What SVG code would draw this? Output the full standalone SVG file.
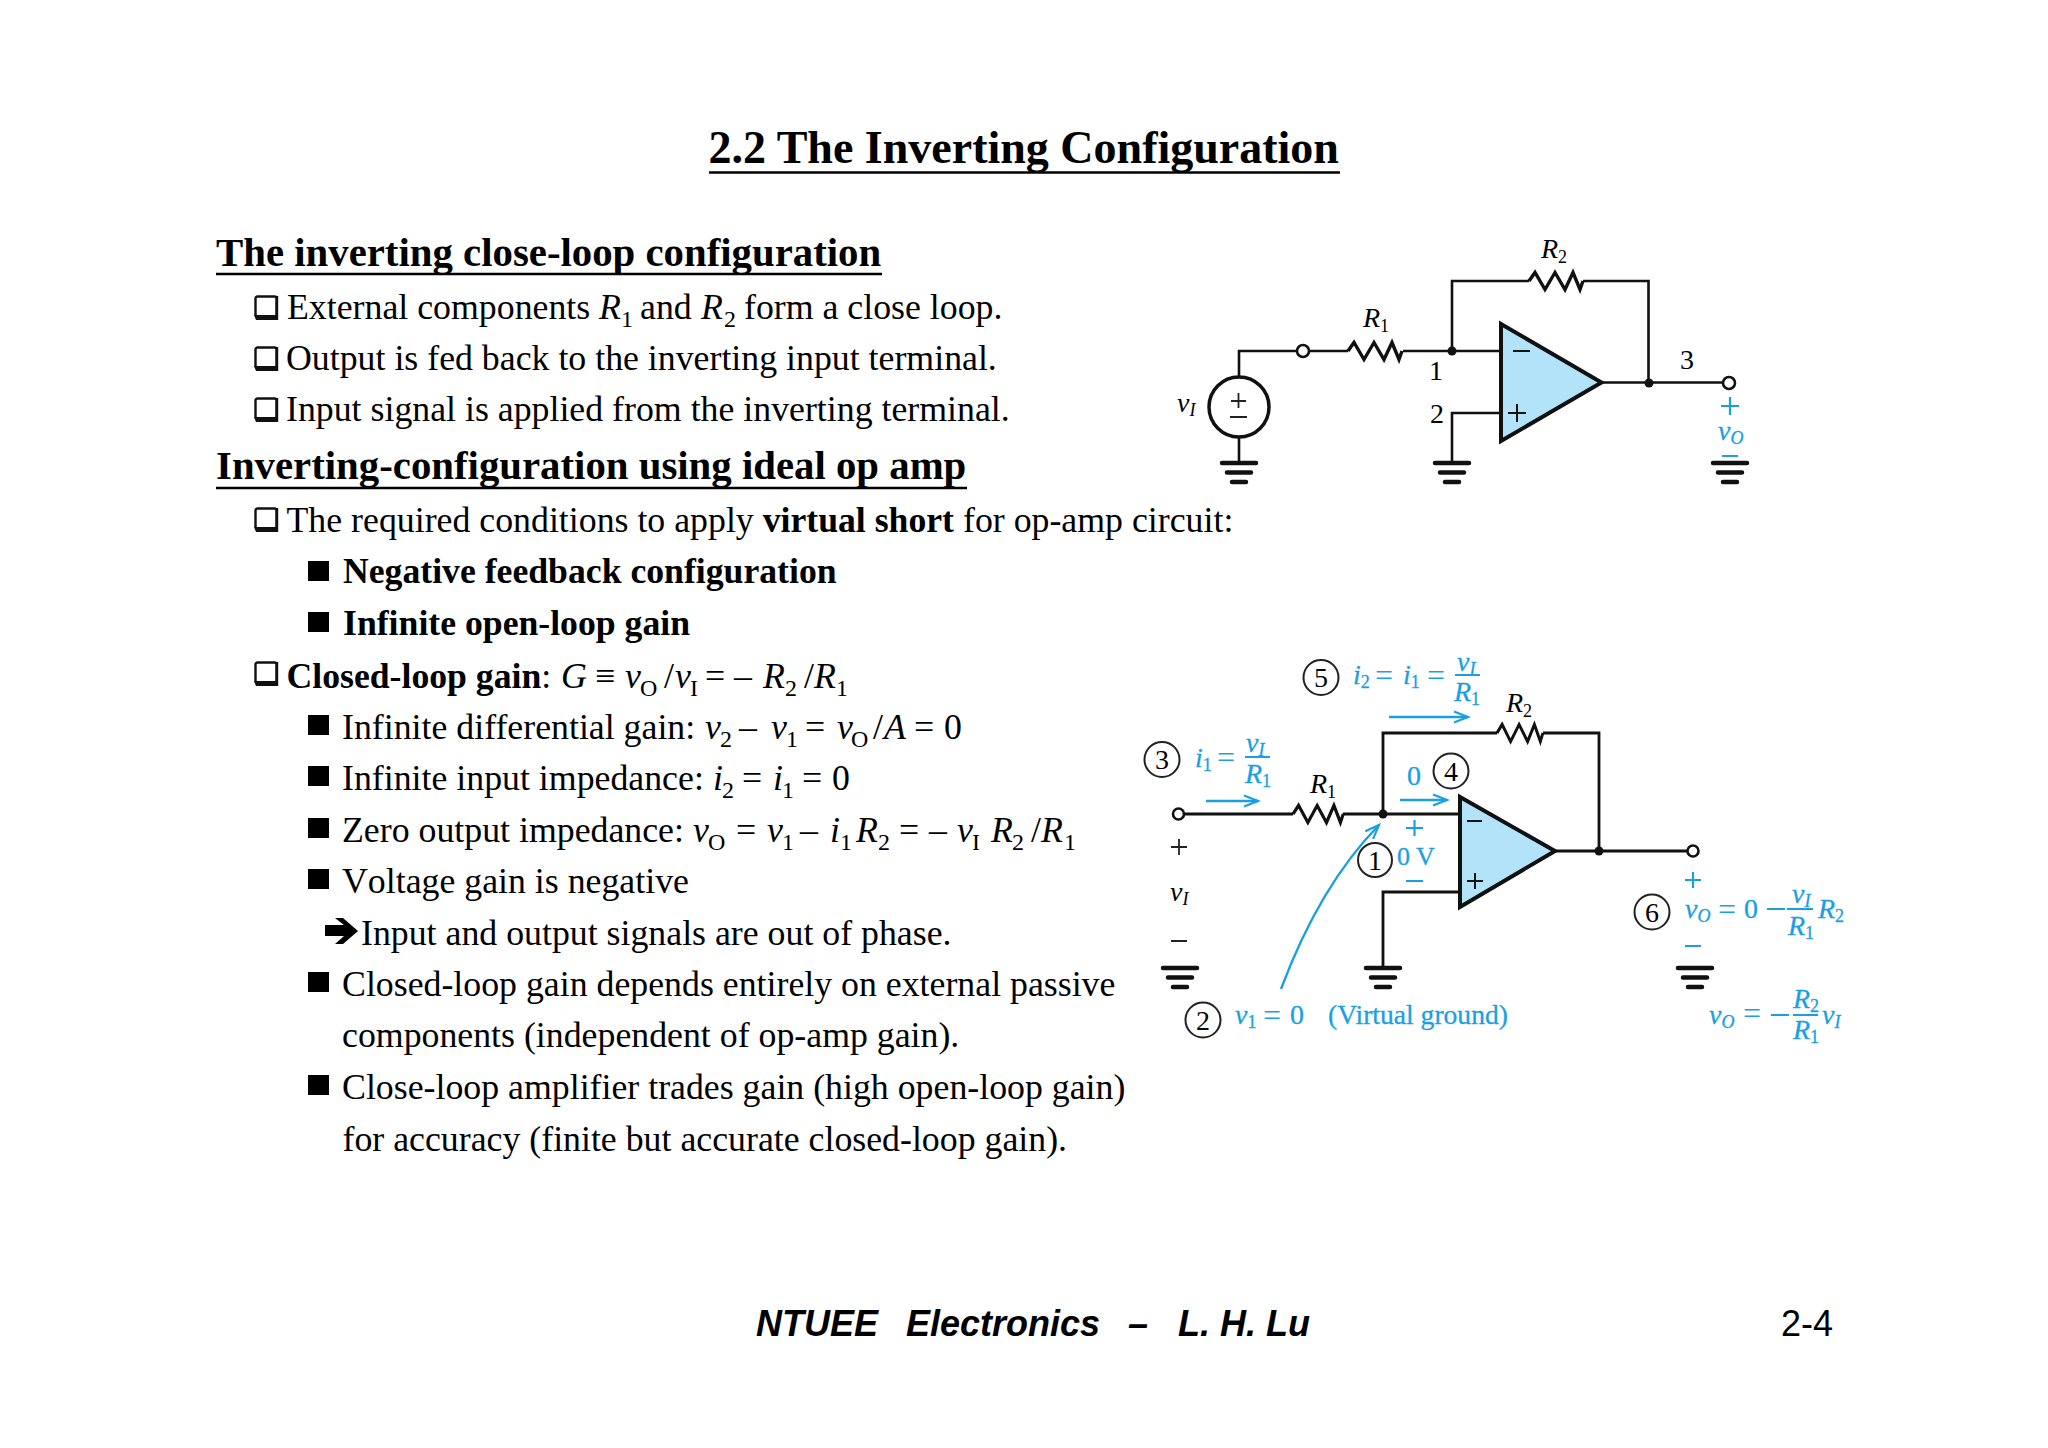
<svg xmlns="http://www.w3.org/2000/svg" width="2048" height="1448" viewBox="0 0 2048 1448">
<style>
text{font-family:"Liberation Serif","Times New Roman",serif;fill:#000}
.t{font-size:35.8px}
.s{font-size:24px}
.i{font-style:italic}
.b{font-weight:700;font-size:35.7px}
.h{font-size:40.8px;font-weight:700}
.ttl{font-size:46px;font-weight:700}
.f{font-family:"Liberation Sans",Arial,sans-serif;font-size:36px;font-weight:700;font-style:italic}
.w{fill:none;stroke:#111;stroke-width:2.6}
.w2{fill:none;stroke:#111;stroke-width:2.8}
.r{fill:none;stroke:#111;stroke-width:3.4;stroke-linejoin:miter}
.g{stroke:#111;stroke-width:4.5;stroke-linecap:round}
.o{fill:#fff;stroke:#111;stroke-width:2.6}
.amp{fill:#b3e3f9;stroke:#111;stroke-width:4;stroke-linejoin:miter}
.d{fill:#111}
.ul{stroke:#000;stroke-width:2.4}
.cb{fill:#fff;stroke:#111;stroke-width:2.4}
.bl{fill:#000}
.c{fill:#fff;stroke:#222;stroke-width:2}
.n{font-size:28px;text-anchor:middle}
.l{font-size:28px}
.bt{fill:#1a9fe2;font-size:28px;stroke:#1a9fe2;stroke-width:.3}
.eq{fill:#1a9fe2;font-size:32px}
.bs{fill:#1a9fe2;font-size:18px}
.ls{font-size:18px}
.bw{fill:none;stroke:#1a9fe2;stroke-width:2.4}
.bar{stroke:#1a9fe2;stroke-width:2}
.nk{font-kerning:none}
</style>
<defs>
<path id="res" d="M0 0 L6-8.500 L16 8.500 L26-8.500 L36 8.500 L44-8.500 L51 8.500 L54 0"/>
<g id="gnd"><path class="g" d="M-17 0H17M-12 9.500H12M-7 19H7"/></g>
<marker id="ah" markerUnits="userSpaceOnUse" markerWidth="20" markerHeight="14" refX="17" refY="7" orient="auto"><path d="M3 1.500 L17 7 L3 12.500" fill="none" stroke="#1a9fe2" stroke-width="2.200"/></marker>
<g id="box"><rect class="cb" x="1.500" y="1.500" width="21" height="20" rx="2"/><path d="M0 20H24V25H2Z" fill="#111"/><path d="M23 1V25" stroke="#111" stroke-width="2.400"/></g>
<rect id="sq" class="bl" width="21" height="20"/>
</defs>

<g id="title"><text class="ttl" x="708.500" y="163">2.2 The Inverting Configuration</text><path class="ul" d="M709 172.500H1340"/></g>

<g id="text-left">
<text class="h" x="216" y="265.500">The inverting close-loop configuration</text><path class="ul" d="M216 274H882"/>
<use href="#box" x="254" y="295"/>
<text class="t" y="319"><tspan x="287">External components</tspan><tspan class="i" x="599">R</tspan><tspan class="s" x="621" dy="8">1</tspan><tspan x="640" dy="-8">and</tspan><tspan class="i" x="701">R</tspan><tspan class="s" x="724" dy="8">2</tspan><tspan x="744" dy="-8">form a close loop.</tspan></text>
<use href="#box" x="254" y="346"/>
<text class="t" x="286" y="370">Output is fed back to the inverting input terminal.</text>
<use href="#box" x="254" y="397"/>
<text class="t" x="286" y="421">Input signal is applied from the inverting terminal.</text>
<text class="h" x="216" y="479">Inverting-configuration using ideal op amp</text><path class="ul" d="M216 488H967"/>
<use href="#box" x="254" y="507"/>
<text class="t" x="286.500" y="532">The required conditions to apply <tspan class="b">virtual short</tspan> for op-amp circuit:</text>
<use href="#sq" x="308" y="561"/>
<text class="b" x="343" y="583">Negative feedback configuration</text>
<use href="#sq" x="308" y="612"/>
<text class="b" x="343" y="635">Infinite open-loop gain</text>
<use href="#box" x="254" y="661"/>
<text class="t" y="687.500"><tspan class="b" x="286.500">Closed-loop gain</tspan><tspan>:</tspan><tspan class="i" x="561">G</tspan><tspan x="595">≡</tspan><tspan class="i" x="625">v</tspan><tspan class="s" x="640" dy="8">O</tspan><tspan x="664" dy="-8">/</tspan><tspan class="i" x="675">v</tspan><tspan class="s" x="690" dy="8">I</tspan><tspan x="705" dy="-8">=</tspan><tspan x="734">–</tspan><tspan class="i" x="763">R</tspan><tspan class="s" x="785" dy="8">2</tspan><tspan x="804" dy="-8">/</tspan><tspan class="i" x="814">R</tspan><tspan class="s" x="836" dy="8">1</tspan></text>
<use href="#sq" x="308" y="715"/>
<text class="t" y="738.500"><tspan x="342">Infinite differential gain:</tspan><tspan class="i" x="705">v</tspan><tspan class="s" x="720" dy="8">2</tspan><tspan x="739" dy="-8">–</tspan><tspan class="i" x="771">v</tspan><tspan class="s" x="786" dy="8">1</tspan><tspan x="805" dy="-8">=</tspan><tspan class="i" x="837">v</tspan><tspan class="s" x="851" dy="8">O</tspan><tspan x="873" dy="-8">/</tspan><tspan class="i" x="884">A</tspan><tspan x="914">=</tspan><tspan x="944">0</tspan></text>
<use href="#sq" x="308" y="766"/>
<text class="t" y="789.500"><tspan x="342">Infinite input impedance:</tspan><tspan class="i" x="713">i</tspan><tspan class="s" x="722" dy="8">2</tspan><tspan x="742" dy="-8">=</tspan><tspan class="i" x="773">i</tspan><tspan class="s" x="782" dy="8">1</tspan><tspan x="802" dy="-8">=</tspan><tspan x="832">0</tspan></text>
<use href="#sq" x="308" y="818"/>
<text class="t" y="841.500"><tspan x="342">Zero output impedance:</tspan><tspan class="i" x="693">v</tspan><tspan class="s" x="708" dy="8">O</tspan><tspan x="736" dy="-8">=</tspan><tspan class="i" x="767">v</tspan><tspan class="s" x="782" dy="8">1</tspan><tspan x="800" dy="-8">–</tspan><tspan class="i" x="830">i</tspan><tspan class="s" x="840" dy="8">1</tspan><tspan class="i" x="856" dy="-8">R</tspan><tspan class="s" x="878" dy="8">2</tspan><tspan x="899" dy="-8">=</tspan><tspan x="929">–</tspan><tspan class="i" x="957">v</tspan><tspan class="s" x="972" dy="8">I</tspan><tspan class="i" x="991" dy="-8">R</tspan><tspan class="s" x="1012" dy="8">2</tspan><tspan x="1031" dy="-8">/</tspan><tspan class="i" x="1041">R</tspan><tspan class="s" x="1064" dy="8">1</tspan></text>
<use href="#sq" x="308" y="869"/>
<text class="t nk" x="342" y="892.500">Voltage gain is negative</text>
<path class="bl" d="M325 925H344L335 918H343L358 931L343 944H335L344 936H325Z"/>
<text class="t" x="361" y="944.500">Input and output signals are out of phase.</text>
<use href="#sq" x="308" y="972"/>
<text class="t" x="342" y="995.500">Closed-loop gain depends entirely on external passive</text>
<text class="t" x="342" y="1047">components (independent of op-amp gain).</text>
<use href="#sq" x="308" y="1075"/>
<text class="t" x="342" y="1098.500">Close-loop amplifier trades gain (high open-loop gain)</text>
<text class="t" x="342.500" y="1150.500">for accuracy (finite but accurate closed-loop gain).</text>
</g>

<g id="connectors">
<path class="w" d="M1239 376V351H1297M1309 351H1348M1403 351H1501M1452 351V281H1529M1583 281H1648.500V383M1601 382.500H1723M1501 413H1452V463M1239 437V463"/>
<use href="#res" class="r" transform="translate(1348 351)"/>
<use href="#res" class="r" transform="translate(1529 281)"/>
<path class="w2" d="M1184 814H1293M1343 814H1460M1383 814V733H1497M1543 733H1599V851M1555 851H1688M1460 892H1383V968"/>
<use href="#res" class="r" transform="translate(1293 814) scale(.93 1)"/>
<use href="#res" class="r" transform="translate(1497 733) scale(.85 1)"/>
</g>

<g id="opamp-top"><path class="amp" d="M1501 324V441L1601.500 382.500Z"/>
<path d="M1513 351H1530M1508 413H1526M1517 404V422" stroke="#111" stroke-width="2" fill="none"/></g>
<g id="source"><circle cx="1239" cy="407" r="30" fill="#fff" stroke="#111" stroke-width="3.500"/><path d="M1231 401H1246M1238.500 393V408M1230 417H1247" stroke="#222" stroke-width="1.800"/></g>
<g id="nodes-top">
<circle class="o" cx="1303" cy="351" r="6"/><circle class="d" cx="1452" cy="351" r="4.500"/><circle class="d" cx="1649" cy="383" r="4.500"/><circle class="o" cx="1729" cy="383" r="6"/>
<use href="#gnd" x="1239" y="463"/><use href="#gnd" x="1452" y="463"/><use href="#gnd" x="1730" y="463"/>
</g>
<g id="labels-top">
<text class="l i" x="1541" y="258">R<tspan class="ls" font-style="normal" dy="5">2</tspan></text>
<text class="l i" x="1363" y="327">R<tspan class="ls" font-style="normal" dy="5">1</tspan></text>
<text class="n" x="1436" y="380">1</text><text class="n" x="1437" y="423">2</text><text class="n" x="1687" y="369">3</text>
<text class="l i" x="1177" y="412">v<tspan class="ls" dy="4">I</tspan></text>
<path d="M1721 406H1739M1730 397V415M1722 456H1738" stroke="#1a9fe2" stroke-width="2.200"/>
<text class="bt i" x="1718" y="440">v<tspan class="bs" dy="4">O</tspan></text>
</g>

<g id="opamp-bottom"><path class="amp" d="M1460 797V907L1555 851Z"/>
<path d="M1467 821H1482M1467 881H1483M1475 873V889" stroke="#111" stroke-width="2" fill="none"/></g>
<g id="nodes-bottom">
<circle class="o" cx="1178.500" cy="814" r="5.500"/><circle class="d" cx="1383" cy="814" r="4.500"/><circle class="d" cx="1599" cy="851" r="4.500"/><circle class="o" cx="1693" cy="851" r="5.500"/>
<use href="#gnd" x="1180" y="968"/><use href="#gnd" x="1383" y="968"/><use href="#gnd" x="1695" y="968"/>
</g>
<g id="arrows-blue">
<path class="bw" marker-end="url(#ah)" d="M1206 801H1258"/>
<path class="bw" marker-end="url(#ah)" d="M1389 717H1468"/>
<path class="bw" marker-end="url(#ah)" d="M1400 800H1447"/>
<path class="bw" marker-end="url(#ah)" d="M1281 989C1305 925 1335 870 1379 825"/>
</g>
<g id="circled">
<g id="n3"><circle class="c" cx="1162" cy="759.500" r="17.500"/><text class="n" x="1162" y="769">3</text></g>
<g id="n5"><circle class="c" cx="1321" cy="677.500" r="17.500"/><text class="n" x="1321" y="687">5</text></g>
<g id="n4"><circle class="c" cx="1451" cy="771" r="17.500"/><text class="n" x="1451" y="781">4</text></g>
<g id="n1"><circle class="c" cx="1375" cy="860" r="17"/><text class="n" x="1375" y="870">1</text></g>
<g id="n2"><circle class="c" cx="1203" cy="1020" r="17.500"/><text class="n" x="1203" y="1030">2</text></g>
<g id="n6"><circle class="c" cx="1652" cy="912" r="17.500"/><text class="n" x="1652" y="922">6</text></g>
</g>
<g id="labels-bottom">
<path d="M1171 847H1187M1179 839V855M1171 941H1187" stroke="#222" stroke-width="1.800"/>
<text class="l i" x="1170" y="901">v<tspan class="ls" dy="4">I</tspan></text>
<text class="l i" x="1310" y="793">R<tspan class="ls" font-style="normal" dy="5">1</tspan></text>
<text class="l i" x="1506" y="712">R<tspan class="ls" font-style="normal" dy="5">2</tspan></text>
<text class="bt i" x="1195" y="767">i<tspan class="bs" font-style="normal" dy="4">1</tspan></text>
<text class="eq" x="1217" y="768">=</text>
<path class="bar" d="M1245 757H1270"/>
<text class="bt i" x="1246" y="752">v<tspan class="bs" dy="4">I</tspan></text>
<text class="bt i" x="1245" y="783">R<tspan class="bs" font-style="normal" dy="4">1</tspan></text>
<text class="bt i" x="1353" y="684">i<tspan class="bs" font-style="normal" dy="4">2</tspan></text>
<text class="eq" x="1375" y="686">=</text>
<text class="bt i" x="1403" y="684">i<tspan class="bs" font-style="normal" dy="4">1</tspan></text>
<text class="eq" x="1427" y="686">=</text>
<path class="bar" d="M1455 675H1480"/>
<text class="bt i" x="1457" y="671">v<tspan class="bs" dy="4">I</tspan></text>
<text class="bt i" x="1454" y="701">R<tspan class="bs" font-style="normal" dy="4">1</tspan></text>
<text class="bt" x="1407" y="785">0</text>
<path d="M1406 828H1423M1414.500 820V836M1406 881H1423" stroke="#1a9fe2" stroke-width="2.200"/>
<text class="bt" x="1397" y="865" style="font-size:26px">0 V</text>
<text class="bt i" x="1235" y="1024">v<tspan class="bs" font-style="normal" dy="4">1</tspan></text>
<text class="eq" x="1263" y="1026">=</text><text class="bt" x="1290" y="1024">0</text>
<text class="bt" x="1328" y="1024" style="font-size:27.6px">(Virtual ground)</text>
<path d="M1685 880H1701M1693 872V888M1685 946H1701" stroke="#1a9fe2" stroke-width="2.200"/>
<text class="bt i" x="1685" y="918">v<tspan class="bs" dy="4">O</tspan></text>
<text class="eq" x="1718" y="920">=</text><text class="bt" x="1744" y="918">0</text><path class="bar" d="M1767 909H1785"/>
<path class="bar" d="M1787 909H1813"/>
<text class="bt i" x="1792" y="903">v<tspan class="bs" dy="4">I</tspan></text>
<text class="bt i" x="1788" y="935">R<tspan class="bs" font-style="normal" dy="4">1</tspan></text>
<text class="bt i" x="1818" y="918">R<tspan class="bs" font-style="normal" dy="4">2</tspan></text>
<text class="bt i" x="1709" y="1024">v<tspan class="bs" dy="4">O</tspan></text>
<text class="eq" x="1743" y="1024">=</text><path class="bar" d="M1771 1015H1789"/>
<path class="bar" d="M1793 1015H1818"/>
<text class="bt i" x="1793" y="1008">R<tspan class="bs" font-style="normal" dy="4">2</tspan></text>
<text class="bt i" x="1793" y="1039">R<tspan class="bs" font-style="normal" dy="4">1</tspan></text>
<text class="bt i" x="1822" y="1024">v<tspan class="bs" dy="4">I</tspan></text>
</g>

<g id="footer">
<text class="f" x="756" y="1336">NTUEE</text><text class="f" x="906" y="1336">Electronics</text><text class="f" x="1128" y="1336">–</text><text class="f" x="1178" y="1336">L. H. Lu</text>
<text x="1781" y="1336" style="font-family:'Liberation Sans',Arial,sans-serif;font-size:36px">2-4</text>
</g>
</svg>
